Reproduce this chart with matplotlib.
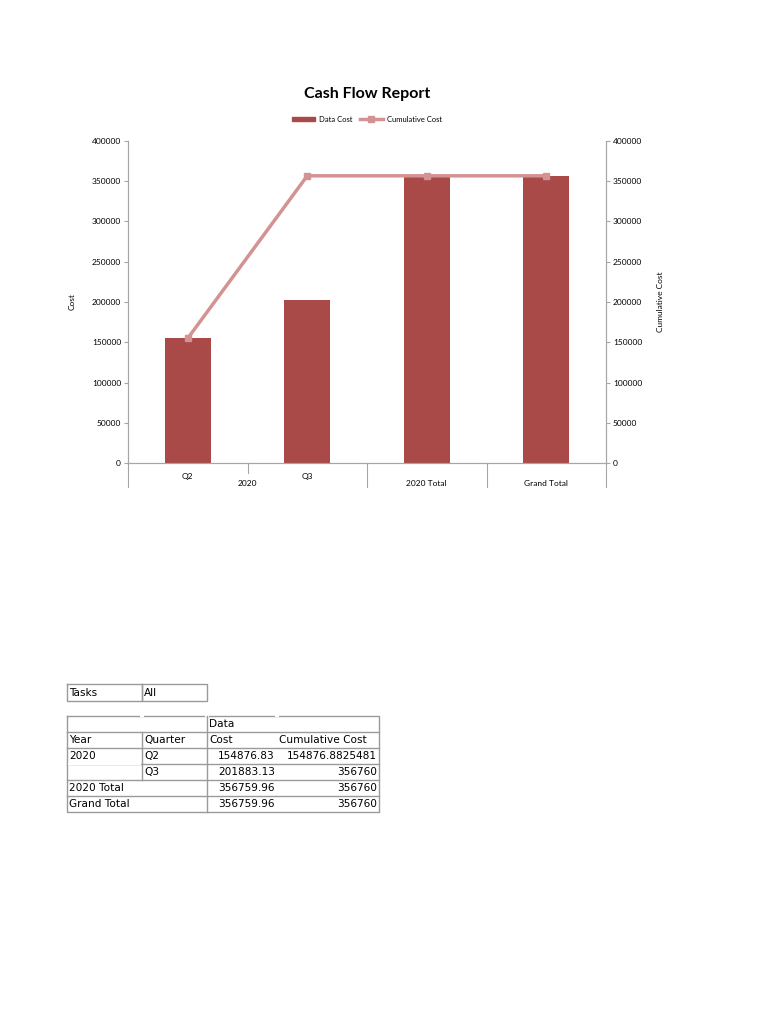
import numpy as np
import matplotlib.pyplot as plt
from matplotlib.lines import Line2D
from matplotlib.patches import Patch

# chart data
categories = ['Q2', 'Q3', '2020 Total', 'Grand Total']
tick_labels = ['Q2', 'Q3', '', '']
group_labels = ['2020', '', '2020 Total', 'Grand Total']
data_cost = [154876.83, 201883.13, 356759.96, 356759.96]
cumulative_cost = [154876.88, 356760, 356760, 356760]

# pivot table text
table_rows = [
    ['', '', 'Data', ''],
    ['Year', 'Quarter', 'Cost', 'Cumulative Cost'],
    ['2020', 'Q2', '154876.83', '154876.8825481'],
    ['', 'Q3', '201883.13', '356760'],
    ['2020 Total', '', '356759.96', '356760'],
    ['Grand Total', '', '356759.96', '356760'],
]

bar_color = '#A94A48'
line_color = '#D29392'
grey = '#A6A6A6'
font = 'Lato'

plt.rcParams['font.family'] = [font, 'DejaVu Sans']

fig = plt.figure(figsize=(7.68, 10.24), dpi=100)
W, H = 768, 1024

# main chart
ax = fig.add_axes([128 / W, 1 - 463 / H, (606 - 128) / W, (463 - 141) / H])
x = np.arange(len(categories))
ax.bar(x, data_cost, width=0.385, color=bar_color, zorder=2)
ax.set_xlim(-0.5, len(categories) - 0.5)
ax.set_ylim(0, 400000)
ax.set_yticks(np.arange(0, 400001, 50000))
ax.tick_params(axis='y', labelsize=6, length=3, color=grey, pad=2)
ax.set_xticks([])
ax.spines['top'].set_visible(False)
for s in ['left', 'right', 'bottom']:
    ax.spines[s].set_color(grey)
ax.set_ylabel('Cost', fontsize=6, labelpad=12)

ax2 = ax.twinx()
ax2.plot(x, cumulative_cost, color=line_color, lw=2.5, marker='s', ms=4,
         zorder=3)
ax2.set_ylim(0, 400000)
ax2.set_yticks(np.arange(0, 400001, 50000))
ax2.tick_params(axis='y', labelsize=6, length=3, color=grey, pad=2)
ax2.spines['top'].set_visible(False)
for s in ['left', 'right', 'bottom']:
    ax2.spines[s].set_color(grey)
ax2.set_ylabel('Cumulative Cost', fontsize=6, labelpad=11)

# category axis labels and separators
ax_h = (463 - 141)
tr = ax.get_xaxis_transform()
for i, lab in enumerate(tick_labels):
    if lab:
        ax.text(x[i], -13 / ax_h, lab, transform=tr,
                ha='center', va='center', fontsize=6)
ax.text((x[0] + x[1]) / 2, -21 / ax_h, group_labels[0],
        transform=tr, ha='center', va='center', fontsize=6)
for i in [2, 3]:
    ax.text(x[i], -21 / ax_h, group_labels[i],
            transform=tr, ha='center', va='center', fontsize=6)
ax.plot([0.5, 0.5], [0, -10 / ax_h], transform=tr, color=grey, lw=0.8, clip_on=False)
for xs in [-0.5, 1.5, 2.5, 3.5]:
    ax.plot([xs, xs], [0, -24 / ax_h], transform=tr, color=grey, lw=0.8, clip_on=False)

fig.text(367 / W, 1 - 94 / H, 'Cash Flow Report', ha='center', va='center',
         fontsize=11.5, fontweight='bold')
handles = [Patch(color=bar_color),
           Line2D([], [], color=line_color, lw=2.5, marker='s', ms=4)]
fig.legend(handles, ['Data Cost', 'Cumulative Cost'], loc='center',
           bbox_to_anchor=(367 / W, 1 - 119 / H), ncol=2, frameon=False,
           fontsize=5.5, handlelength=3, handleheight=0.5, columnspacing=1.0,
           handletextpad=0.5)

# pivot table drawn in pixel coordinates
tab = fig.add_axes([0, 0, 1, 1])
tab.set_xlim(0, W)
tab.set_ylim(H, 0)
tab.axis('off')
tfont = 'DejaVu Sans'
tsize = 7.6
tc = '#9A9A9A'

def box(x0, x1, y0, y1):
    tab.plot([x0, x1, x1, x0, x0], [y0, y0, y1, y1, y0], color=tc, lw=1)

box(67, 142, 684, 701)
box(142, 207, 684, 701)
tab.text(69, 692.5, 'Tasks', fontsize=tsize, va='center', family=tfont)
tab.text(144, 692.5, 'All', fontsize=tsize, va='center', family=tfont)

cols = [67, 142, 207, 277, 379]
row_y = [716, 732, 748, 764, 780, 796, 812]
# outer frame
box(cols[0], cols[-1], row_y[0], row_y[-1])
for yy in row_y[1:-1]:
    tab.plot([cols[0], cols[-1]], [yy, yy], color=tc, lw=1)
# top row gaps between cells
for c in cols[1:-1]:
    tab.plot([c - 1, c + 1], [row_y[0], row_y[0]], color='white', lw=1.5)
# vertical lines
tab.plot([cols[2], cols[2]], [row_y[0], row_y[-1]], color=tc, lw=1)
tab.plot([cols[1], cols[1]], [row_y[1], row_y[4]], color=tc, lw=1)
# no line between the two 2020 rows in the year column
tab.plot([cols[0] + 2, cols[1] - 2], [row_y[3], row_y[3]], color='white', lw=1.5)

for r, row in enumerate(table_rows):
    yc = (row_y[r] + row_y[r + 1]) / 2
    for c, txt in enumerate(row):
        if not txt:
            continue
        if r >= 2 and c >= 2:
            tab.text(cols[c + 1] - 2, yc, txt, fontsize=tsize, va='center',
                     ha='right', family=tfont)
        else:
            tab.text(cols[c] + 2, yc, txt, fontsize=tsize, va='center',
                     ha='left', family=tfont)

fig.savefig('out.png', dpi=100)
